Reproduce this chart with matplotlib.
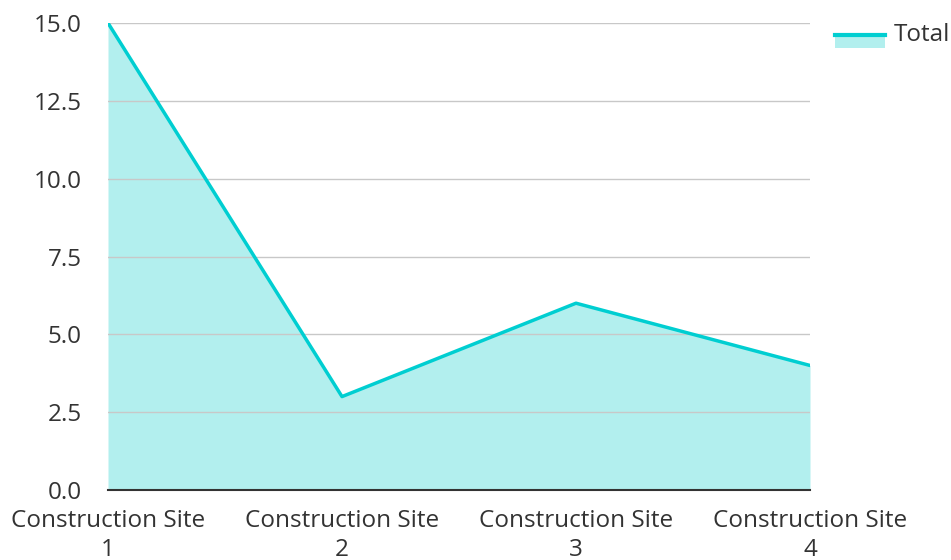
import matplotlib
matplotlib.use("Agg")
import matplotlib.pyplot as plt
from matplotlib.patches import Rectangle
from matplotlib.lines import Line2D

categories = ["Construction Site\n1", "Construction Site\n2", "Construction Site\n3", "Construction Site\n4"]
values = [15, 3, 6, 4]
yticks = [0.0, 2.5, 5.0, 7.5, 10.0, 12.5, 15.0]
series_name = "Total"

line_color = "#00CED1"
fill_color = "#B2EFEE"
text_color = "#333333"

plt.rcParams['font.family'] = ['Open Sans', 'DejaVu Sans']

W, H = 951, 560
fig = plt.figure(figsize=(W/100, H/100), dpi=100)
ax = fig.add_axes([108/W, 1-490/H, (810-108)/W, (490-23)/H])

x = list(range(len(categories)))
ax.fill_between(x, values, 0, color=fill_color, linewidth=0, zorder=1)
ax.plot(x, values, color=line_color, linewidth=2.5, zorder=3, solid_capstyle='round')

ax.set_xlim(0, len(categories)-1)
ax.set_ylim(0, 15)
ax.set_yticks(yticks)
ax.set_yticklabels([f"{v:.1f}" for v in yticks])
ax.set_xticks(x)
ax.set_xticklabels(categories)
ax.grid(axis='y', color='#c8c8c8', linewidth=1, zorder=2)
ax.set_axisbelow(False)
for s in ['top', 'right', 'left']:
    ax.spines[s].set_visible(False)
ax.spines['bottom'].set_color(text_color)
ax.spines['bottom'].set_linewidth(1.5)
ax.spines['bottom'].set_zorder(4)
ax.tick_params(axis='both', length=0, labelsize=17.5, colors=text_color)
ax.tick_params(axis='y', pad=19)
ax.tick_params(axis='x', pad=14)
for lbl in ax.get_xticklabels():
    lbl.set_linespacing(1.25)

# legend (drawn in figure pixel coordinates)
fig.patches.append(Rectangle((835/W, 1-48/H), 50/W, 11/H, transform=fig.transFigure,
                             facecolor=fill_color, edgecolor='none'))
fig.lines.append(Line2D([835/W, 885/W], [1-35/H, 1-35/H], transform=fig.transFigure,
                        color=line_color, linewidth=3))
fig.text(894/W, 1-35/H, series_name, fontsize=17.5, color=text_color, va='center', ha='left')

fig.savefig("out.png", dpi=100)
